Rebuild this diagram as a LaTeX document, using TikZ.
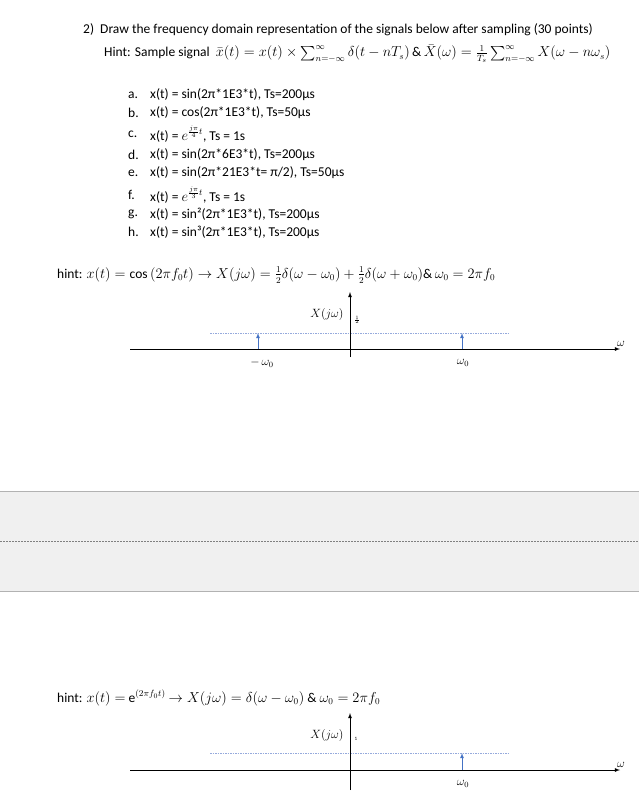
\documentclass[tikz,border=0pt]{standalone}
\usepackage{amsmath}
\usepackage{fontspec}
\setmainfont{Carlito}
\tikzset{
  txt/.style={anchor=west,inner sep=0pt,font=\fontsize{13.5}{15}\selectfont},
  htxt/.style={anchor=west,inner sep=0pt,font=\fontsize{13.5}{15}\selectfont},
  ax/.style={black,line width=0.8pt,-latex},
  imp/.style={color={rgb,255:red,68;green,114;blue,196},line width=0.8pt,-latex},
  lvl/.style={color={rgb,255:red,150;green,170;blue,220},line width=0.4pt,dash pattern=on 1.5pt off 1pt},
  lab/.style={inner sep=0pt,font=\fontsize{12}{14}\selectfont},
}
\begin{document}
\begin{tikzpicture}[x=1pt,y=-1pt]
\useasboundingbox (0,0) rectangle (639,796);
\fill[white] (0,0) rectangle (639,796);
% header
\node[txt] (t1) at (83,30) {2)\ \ Draw the frequency domain representation of the signals below after sampling (30 points)};
\node[txt] (t2) at (104,54) {Hint: Sample signal \ $\bar{x}(t)=x(t)\times\textstyle\sum_{n=-\infty}^{\infty}\delta(t-nT_s)\,\&\,\bar{X}(\omega)=\tfrac{1}{T_s}\textstyle\sum_{n=-\infty}^{\infty}X(\omega-n\omega_s)$};
% list
\foreach \l/\y/\t in {
 a./95/{x(t) = sin(2π*1E3*t), Ts=200µs},
 b./113/{x(t) = cos(2π*1E3*t), Ts=50µs},
 c./134/{x(t) = $e^{\frac{j\pi}{4}t}$, Ts = 1s},
 d./155/{x(t) = sin(2π*6E3*t), Ts=200µs},
 e./173/{x(t) = sin(2π*21E3*t= π/2), Ts=50µs},
 f./195/{x(t) = $e^{\frac{j\pi}{3}t}$, Ts = 1s},
 g./214/{x(t) = sin²(2π*1E3*t), Ts=200µs},
 h./232/{x(t) = sin³(2π*1E3*t), Ts=200µs}}{
  \node[txt] (l\l) at (128,\y) {\l};
  \node[txt] (i\l) at (150,\y) {\t};
}
% hint 1
\node[htxt] (h1) at (57,275) {hint: $x(t)=\cos\left(2\pi f_0t\right)\rightarrow X(j\omega)=\tfrac{1}{2}\delta(\omega-\omega_0)+\tfrac{1}{2}\delta(\omega+\omega_0)\&\,\omega_0=2\pi f_0$};
\coordinate (a1l) at (130,349); \coordinate (a1r) at (620,349);
\coordinate (v1b) at (350,357); \coordinate (v1t) at (350,292);
\coordinate (d1l) at (210,333); \coordinate (d1r) at (508,333);
\coordinate (p1b) at (258,349); \coordinate (p1t) at (258,333);
\coordinate (q1b) at (462,349); \coordinate (q1t) at (462,333);
\draw[lvl] (d1l) -- (d1r);
\draw[ax] (a1l) -- (a1r);
\draw[ax] (v1b) -- (v1t);
\draw[imp] (p1b) -- (p1t);
\draw[imp] (q1b) -- (q1t);
\node[lab] (w1) at (621,344) {$\omega$};
\node[lab] (X1) at (327,314) {$X(j\omega)$};
\node[inner sep=0pt] (half) at (357,320) {\tiny$\frac{1}{2}$};
\node[lab] (mw0) at (262,363) {$-\,\omega_0$};
\node[lab] (pw0) at (463,363) {$\omega_0$};
% gray band
\fill[gray!12] (0,491) rectangle (639,591);
\draw[gray!60] (0,491) -- (639,491);
\draw[gray!60] (0,591) -- (639,591);
\draw[gray,dash pattern=on 2pt off 1pt] (0,541) -- (639,541);
% hint 2
\node[htxt] (h2) at (57,698) {hint: $x(t)=$ e$^{(2\pi f_0t)}$ $\rightarrow X(j\omega)=\delta(\omega-\omega_0)\ \&\ \omega_0=2\pi f_0$};
\coordinate (a2l) at (130,770); \coordinate (a2r) at (620,770);
\coordinate (v2b) at (350,790); \coordinate (v2t) at (350,713);
\coordinate (d2l) at (210,753); \coordinate (d2r) at (508,753);
\coordinate (q2b) at (462,770); \coordinate (q2t) at (462,753);
\draw[lvl] (d2l) -- (d2r);
\draw[ax] (a2l) -- (a2r);
\draw[ax] (v2b) -- (v2t);
\draw[imp] (q2b) -- (q2t);
\node[lab] (w2) at (621,765) {$\omega$};
\node[lab] (X2) at (327,735) {$X(j\omega)$};
\node[inner sep=0pt] (one) at (356,739) {\tiny 1};
\node[lab] (pw02) at (463,784) {$\omega_0$};
\end{tikzpicture}
\end{document}
